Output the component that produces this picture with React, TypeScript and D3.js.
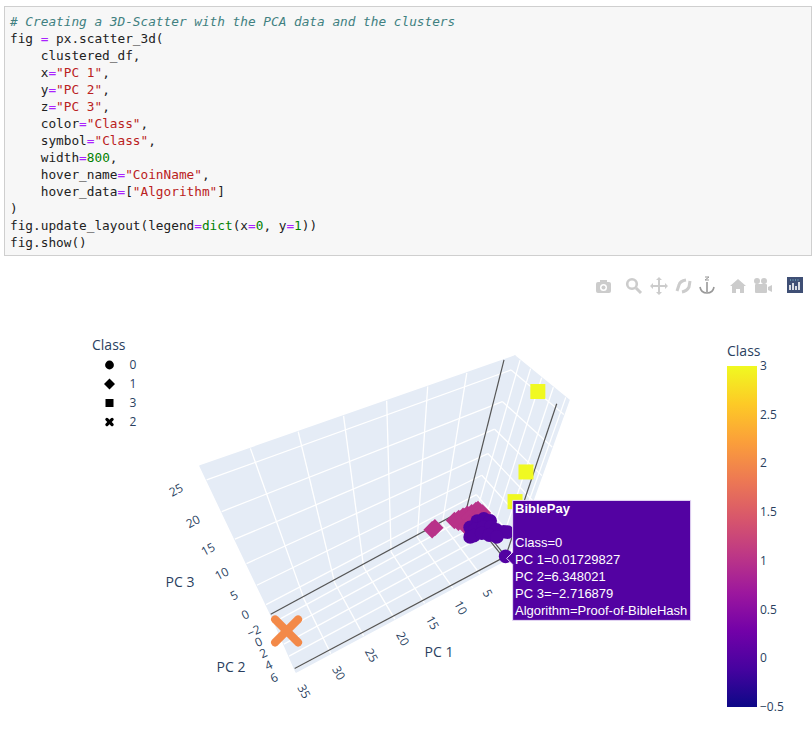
import React from "react";
import * as d3 from "d3";

// ---------- code cell ----------
type Tok = [string, string];
const codeLines: Tok[][] = [
  [["# Creating a 3D-Scatter with the PCA data and the clusters", "c"]],
  [["fig ", "t"], ["=", "o"], [" px.scatter_3d(", "t"]],
  [["    clustered_df,", "t"]],
  [["    x", "t"], ["=", "o"], ['"PC 1"', "s"], [",", "t"]],
  [["    y", "t"], ["=", "o"], ['"PC 2"', "s"], [",", "t"]],
  [["    z", "t"], ["=", "o"], ['"PC 3"', "s"], [",", "t"]],
  [["    color", "t"], ["=", "o"], ['"Class"', "s"], [",", "t"]],
  [["    symbol", "t"], ["=", "o"], ['"Class"', "s"], [",", "t"]],
  [["    width", "t"], ["=", "o"], ["800", "n"], [",", "t"]],
  [["    hover_name", "t"], ["=", "o"], ['"CoinName"', "s"], [",", "t"]],
  [["    hover_data", "t"], ["=", "o"], ["[", "t"], ['"Algorithm"', "s"], ["]", "t"]],
  [[")", "t"]],
  [["fig.update_layout(legend", "t"], ["=", "o"], ["dict", "n"], ["(x", "t"], ["=", "o"], ["0", "n"], [", y", "t"], ["=", "o"], ["1", "n"], ["))", "t"]],
  [["fig.show()", "t"]],
];
const codeColors: Record<string, string> = { t: "#222222", c: "#408080", o: "#aa22ff", s: "#ba2121", n: "#008000" };

// ---------- data ----------
const xDomain: [number, number] = [-1.5, 35];
const yDomain: [number, number] = [-3, 6.5];
const zDomain: [number, number] = [-3.5, 27];
const xTicks = [5, 10, 15, 20, 25, 30, 35];
const xGrid = [5, 10, 15, 20, 25, 30];
const yTicks = [-2, 0, 2, 4, 6];
const zTicks = [0, 5, 10, 15, 20, 25];
const colorTicks = [-0.5, 0, 0.5, 1, 1.5, 2, 2.5, 3];
const plasma = ["#0d0887", "#46039f", "#7201a8", "#9c179e", "#bd3786", "#d8576b", "#ed7953", "#fb9f3a", "#fdca26", "#f0f921"];
const legendOrder = [0, 1, 3, 2];

// [PC 1, PC 2, PC 3]
const class0: number[][] = [
  [1.5, 0.93, 0], [0.34, 1.12, 0], [-0.33, 1.83, 0], [3.17, 1.3, 0], [2.66, 1.94, 0],
  [1.34, 2.2, 0], [0.27, 2.7, 0], [-0.12, 3.46, 0], [4.2, 2.6, 0], [3.56, 2.68, 0],
  [2.24, 2.92, 0], [1.42, 3.67, 0], [-0.94, 4.2, 0], [-1.4, 4.5, 0], [0.6, 4.4, 0],
  [0.01729827, 6.348021, -2.716879],
];
const class1: number[][] = [
  [7.9, -2, -1.6], [7.3, -2.1, -1.6],
  [3.59, -1.8, -2], [2.73, -1.77, -2], [1.87, -1.74, -2], [1.01, -1.71, -2], [0.21, -1.6, -2], [-0.65, -1.57, -2], [-1.08, -1.55, -2],
  [3.23, -1.2, -2], [2.22, -1.08, -2], [1.2, -0.97, -2], [0.06, -1, -2], [-1.08, -1.03, -2],
  [2.66, -0.05, -2], [1.67, -0.17, -2], [0.69, -0.28, -2], [-0.36, -0.46, -2], [-1.33, -0.69, -2],
];
const class2: number[][] = [[34, 1.1, -2.2]];
const class3: number[][] = [[0, 3.4, 26.6], [0, 5.26, 15.2], [0, 5.07, 9]];

const hoverPoint = class0[class0.length - 1];
const hoverLines = ["Class=0", "PC 1=0.01729827", "PC 2=6.348021", "PC 3=\u22122.716879", "Algorithm=Proof-of-BibleHash"];
const hoverTitle = "BiblePay";

// ---------- projection: box corners on screen, with perspective along each axis ----------
const corners: Record<string, [number, number]> = {
  "000": [473, 507], "100": [272, 617], "010": [513, 556], "110": [296, 672],
  "001": [515, 356], "101": [200, 466], "011": [569, 400], "111": [245, 531],
};
const warp = (t: number, k: number) => t / (t + (1 - t) * k);
const xn = d3.scaleLinear().domain(xDomain).range([0, 1]);
const yn = d3.scaleLinear().domain(yDomain).range([0, 1]);
const zn = d3.scaleLinear().domain(zDomain).range([0, 1]);
function project(x: number, y: number, z: number): [number, number] {
  const u = warp(xn(x), 1.2), v = warp(yn(y), 1.14), w = warp(zn(z), 1.45);
  let px = 0, py = 0;
  for (const a of [0, 1]) for (const b of [0, 1]) for (const c of [0, 1]) {
    const f = (a ? u : 1 - u) * (b ? v : 1 - v) * (c ? w : 1 - w);
    const p = corners[`${a}${b}${c}`];
    px += f * p[0];
    py += f * p[1];
  }
  return [px, py];
}
const [x0, x1] = xDomain, [y0, y1] = yDomain, [z0, z1] = zDomain;
const seg = (a: number[], b: number[]) => {
  const p = project(a[0], a[1], a[2]), q = project(b[0], b[1], b[2]);
  return { x1: p[0], y1: p[1], x2: q[0], y2: q[1] };
};
const poly = (pts: number[][]) => pts.map((p) => project(p[0], p[1], p[2]).join(",")).join(" ");

const colorT = d3.scaleLinear().domain([-0.5, 3]).range([0, 1]);
const plasmaI = d3.piecewise(d3.interpolateRgb, plasma);
const classColor = (c: number) => d3.color(plasmaI(colorT(c)))!.formatHex();
const barY = d3.scaleLinear().domain([-0.5, 3]).range([707, 366]);

const fmt = (v: number) => String(v).replace("-", "\u2212");

const font = "'Open Sans', Verdana, Arial, sans-serif";
const ink = "#2a3f5f";
const wall = "#e5ecf6";
const icon = "#cccccc";

function XMark({ cx, cy, r, w, color }: { cx: number; cy: number; r: number; w: number; color: string }) {
  return (
    <g stroke={color} strokeWidth={w} strokeLinecap="round">
      <line x1={cx - r} y1={cy - r} x2={cx + r} y2={cy + r} />
      <line x1={cx - r} y1={cy + r} x2={cx + r} y2={cy - r} />
    </g>
  );
}

export default function App() {
  const hp = project(hoverPoint[0], hoverPoint[1], hoverPoint[2]);
  const [hx, hy, hz] = hoverPoint;
  const grid = [
    ...xGrid.map((x) => seg([x, y0, z0], [x, y0, z1])),
    ...xGrid.map((x) => seg([x, y0, z0], [x, y1, z0])),
    ...zTicks.map((z) => seg([x0, y0, z], [x1, y0, z])),
    ...zTicks.map((z) => seg([x0, y0, z], [x0, y1, z])),
    ...yTicks.map((y) => seg([x0, y, z0], [x1, y, z0])),
    ...yTicks.map((y) => seg([x0, y, z0], [x0, y, z1])),
  ];
  const spikes = [
    seg([hx, hy, hz], [x1, hy, hz]),
    seg([hx, y0, hz], [x1, y0, hz]),
    seg([hx, y0, z0], [hx, y0, z1]),
    seg([hx, hy, z0], [hx, hy, z1]),
    seg([hx, y0, hz], [hx, hy, hz]),
    seg([hx, y0, z0], [hx, hy, z0]),
  ];
  return (
    <svg width={812} height={730} style={{ position: "absolute", left: 0, top: 0, display: "block", background: "#fff" }}>
      <defs>
        <linearGradient id="plasmaBar" x1="0" y1="1" x2="0" y2="0">
          {plasma.map((c, i) => <stop key={i} offset={i / (plasma.length - 1)} stopColor={c} />)}
        </linearGradient>
      </defs>

      {/* code cell */}
      <rect x={4.5} y={6.5} width={807} height={249} fill="#f7f7f7" stroke="#cfcfcf" />
      <g fontFamily="'DejaVu Sans Mono', monospace" fontSize={12.75} style={{ whiteSpace: "pre" }}>
        {codeLines.map((line, i) => (
          <text key={i} x={10} y={26 + i * 17} xmlSpace="preserve">
            {line.map((t, j) => (
              <tspan key={j} fill={codeColors[t[1]]} fontStyle={t[1] === "c" ? "italic" : "normal"}>{t[0]}</tspan>
            ))}
          </text>
        ))}
      </g>

      {/* modebar */}
      <g fill={icon} stroke="none">
        <rect x={596} y={282} width={15} height={11} rx={2} />
        <rect x={600} y={280} width={7} height={3} />
        <circle cx={603.5} cy={287.5} r={3.5} fill="#fff" />
        <circle cx={603.5} cy={287.5} r={2} />
      </g>
      <g stroke={icon} fill="none">
        <circle cx={632} cy={284} r={4.8} strokeWidth={2.6} />
        <line x1={636} y1={288} x2={641} y2={293} strokeWidth={3} />
        <path d="M659,279V293M652,286H666" strokeWidth={2} />
        <path d="M659,277l-3,3h6zM659,295l-3,-3h6zM650,286l3,-3v6zM668,286l-3,-3v6z" fill={icon} stroke="none" />
        <path d="M677,291l2,-6q1,-4 7,-5" strokeWidth={3} />
        <path d="M690,281l-1,6q-2,4 -7,5" strokeWidth={3} />
        <path d="M707,282V292M700,287q1,6 7,6q6,0 7,-6" stroke="#999999" strokeWidth={1.6} />
        <path d="M705,277h4l-4,3h4" stroke="#999999" strokeWidth={1} />
      </g>
      <path d="M738,279l8,7h-2v7h-4v-4h-4v4h-4v-7h-2z" fill={icon} />
      <g fill={icon}>
        <circle cx={757} cy={281} r={3} />
        <circle cx={764} cy={281} r={3} />
        <rect x={755} y={284} width={12} height={9} rx={1} />
        <path d="M768,287l4,-2v7l-4,-2z" />
      </g>
      <rect x={787} y={277} width={16} height={16} fill="#3f4f75" />
      <path d="M790,290v-5M793,290v-7M796,290v-4M799,290v-8" stroke="#fff" strokeWidth={1.6} />
      <path d="M790,280h10" stroke="#7fc8d8" strokeWidth={1} strokeDasharray="1 1.5" />

      {/* box walls */}
      <g fill={wall} stroke={wall} strokeWidth={1.5} strokeLinejoin="round">
        <polygon points={poly([[x1, y0, z1], [x0, y0, z1], [x0, y0, z0], [x1, y0, z0]])} />
        <polygon points={poly([[x0, y0, z1], [x0, y1, z1], [x0, y1, z0], [x0, y0, z0]])} />
        <polygon points={poly([[x1, y0, z0], [x0, y0, z0], [x0, y1, z0], [x1, y1, z0]])} />
      </g>
      <g stroke="#ffffff" strokeWidth={1.3}>
        {grid.map((g, i) => <line key={i} {...g} />)}
      </g>
      <g stroke="#555555" strokeWidth={1.2}>
        {spikes.map((g, i) => <line key={i} {...g} />)}
      </g>

      {/* axis labels */}
      <g fontFamily={font} fontSize={12} fill={ink} textAnchor="middle" dominantBaseline="middle">
        {xTicks.map((t) => {
          const p = project(t, y1, z0);
          return <text key={t} transform={`translate(${p[0] + 7},${p[1] + 20}) rotate(62)`}>{fmt(t)}</text>;
        })}
        {yTicks.map((t) => {
          const p = project(x1, t, z0);
          return <text key={t} transform={`translate(${p[0] - 20},${p[1] + 10}) rotate(-25)`}>{fmt(t)}</text>;
        })}
        {zTicks.map((t) => {
          const p = project(x1, y0, t);
          return <text key={t} transform={`translate(${p[0] - 19 - zn(t) * 12},${p[1] + 11}) rotate(-28)`}>{fmt(t)}</text>;
        })}
      </g>
      <g fontFamily={font} fontSize={14} fill={ink} textAnchor="middle" dominantBaseline="middle">
        <text x={439} y={653}>PC 1</text>
        <text x={231} y={668}>PC 2</text>
        <text x={180} y={583}>PC 3</text>
      </g>

      {/* markers */}
      <g fill={classColor(3)}>
        {class3.map((d, i) => {
          const p = project(d[0], d[1], d[2]);
          return <rect key={i} x={p[0] - 7.5} y={p[1] - 7.5} width={15} height={15} />;
        })}
      </g>
      <g fill={classColor(1)}>
        {class1.map((d, i) => {
          const p = project(d[0], d[1], d[2]);
          return <path key={i} transform={`translate(${p[0]},${p[1]}) rotate(45)`} d={d3.symbol().type(d3.symbolSquare).size(150)()!} />;
        })}
      </g>
      <g fill={classColor(0)}>
        {class0.map((d, i) => {
          const p = project(d[0], d[1], d[2]);
          return <circle key={i} cx={p[0]} cy={p[1]} r={6.8} />;
        })}
      </g>
      {class2.map((d, i) => {
        const p = project(d[0], d[1], d[2]);
        return <XMark key={i} cx={p[0]} cy={p[1]} r={11.5} w={8} color={classColor(2)} />;
      })}

      {/* legend */}
      <g fontFamily={font} fill={ink}>
        <text x={92} y={350} fontSize={14}>Class</text>
        {legendOrder.map((c, i) => {
          const y = 365 + i * 19;
          const sym =
            c === 0 ? <circle cx={109.5} cy={y} r={4.4} fill="#000" /> :
            c === 1 ? <path transform={`translate(109.5,${y}) rotate(45)`} d={d3.symbol().type(d3.symbolSquare).size(60)()!} fill="#000" /> :
            c === 3 ? <rect x={105.5} y={y - 4} width={8} height={8} fill="#000" /> :
            <XMark cx={109.5} cy={y} r={2.6} w={3.2} color="#000" />;
          return (
            <g key={c}>
              {sym}
              <text x={129.5} y={y + 4} fontSize={12}>{c}</text>
            </g>
          );
        })}
      </g>

      {/* colour bar */}
      <text x={727} y={356} fontFamily={font} fontSize={14} fill={ink}>Class</text>
      <rect x={727} y={barY(3)} width={30} height={barY(-0.5) - barY(3)} fill="url(#plasmaBar)" />
      <g fontFamily={font} fontSize={12} fill={ink}>
        {colorTicks.map((t) => <text key={t} x={760} y={barY(t) + 4}>{fmt(t)}</text>)}
      </g>

      {/* hover label */}
      <path
        d={`M${hp[0] + 1},${hp[1] + 2}l6,-6v-52h178v120h-178v-56z`}
        fill={classColor(0)}
        stroke="#e8dcf5"
        strokeWidth={1}
      />
      <g fontFamily="'Liberation Sans', Arial, sans-serif" fontSize={13} fill="#ffffff">
        <text x={515} y={513} fontWeight="bold">{hoverTitle}</text>
        {hoverLines.map((l, i) => <text key={i} x={515} y={547 + i * 17}>{l}</text>)}
      </g>
    </svg>
  );
}
